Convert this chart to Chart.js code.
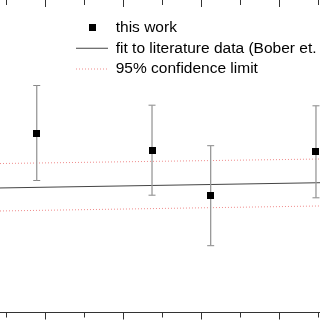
<!DOCTYPE html>
<html><head><meta charset="utf-8">
<style>
html,body{margin:0;padding:0;background:#fff;overflow:hidden;}
#wrap{position:relative;width:320px;height:320px;overflow:hidden;background:#fff;}
#box{position:absolute;left:-60px;top:-20px;width:440px;height:360px;}
</style>
<script src="https://cdn.jsdelivr.net/npm/chart.js@4"></script>
</head><body>
<div id="wrap"><div id="box"><canvas id="c"></canvas></div></div>
<script>
// ---- data ----
const xValues = [0.894, 2.372, 3.124, 4.474];
const yValues = [17.90, 16.18, 11.63, 16.02];
const yErrors = [4.75, 4.50, 5.00, 4.60];
const lineX = [0, 5];
const fitY = [12.35, 12.99];
const upperY = [14.80, 15.35];
const lowerY = [10.05, 10.66];
const majorTicks = [1, 2, 3, 4];
const minorTicks = [0.5, 1.5, 2.5, 3.5, 4.5];
const seriesNames = ['this work', 'fit to literature data (Bober et. al.)', '95% confidence limit'];

Chart.defaults.font.family = "'Liberation Sans', Arial, sans-serif";
Chart.defaults.font.size = 15.5;
Chart.defaults.color = '#000';

const sq = document.createElement('canvas');
sq.width = 7; sq.height = 7;
const g = sq.getContext('2d'); g.fillStyle = '#000'; g.fillRect(0, 0, 7, 7);

const pts = xValues.map((x, i) => ({x, y: yValues[i]}));
const bars = xValues.flatMap((x, i) => [{x, y: yValues[i] - yErrors[i]}, {x, y: yValues[i] + yErrors[i]}, {x, y: null}]);
const caps = xValues.flatMap((x, i) => [{x, y: yValues[i] - yErrors[i]}, {x, y: yValues[i] + yErrors[i]}]);
const mk = ys => lineX.map((x, i) => ({x, y: ys[i]}));

const framePlugin = {
  id: 'frame',
  afterLayout(chart) {
    const a = chart.chartArea, lg = chart.legend;
    lg.left = a.left + 103.75;
    lg.top = a.top + 15.5;
  },
  beforeDatasetsDraw(chart) {
    const {ctx, chartArea: a, scales: {x}} = chart;
    ctx.save();
    ctx.strokeStyle = '#333';
    ctx.lineWidth = 1;
    ctx.beginPath();
    const yb = Math.round(a.bottom) + 0.5, yt = Math.round(a.top) + 0.5;
    ctx.moveTo(a.left, yb); ctx.lineTo(a.right, yb);
    ctx.moveTo(a.left, yt); ctx.lineTo(a.right, yt);
    const tk = (vals, lb, lt) => vals.forEach(v => {
      const px = Math.round(x.getPixelForValue(v)) + 0.5;
      ctx.moveTo(px, yb); ctx.lineTo(px, yb + lb);
      ctx.moveTo(px, yt); ctx.lineTo(px, yt + lt);
    });
    tk(majorTicks, 7, 7.5);
    tk(minorTicks, 5, 5.5);
    ctx.stroke();
    ctx.restore();
  }
};

new Chart(document.getElementById('c'), {
  type: 'line',
  data: {
    datasets: [
      {label: seriesNames[0], data: pts, showLine: false, pointStyle: sq, pointRadius: 4, backgroundColor: '#000', borderColor: '#000'},
      {label: 'err', data: bars, borderColor: '#999', borderWidth: 1.3, pointRadius: 0, spanGaps: false, inLegend: false},
      {label: 'cap', data: caps, showLine: false, pointStyle: 'line', pointRadius: 3.5, borderColor: '#888', pointBorderColor: '#888', pointBorderWidth: 1, inLegend: false},
      {label: seriesNames[1], data: mk(fitY), borderColor: '#444', borderWidth: 1, pointRadius: 0, pointStyle: 'line'},
      {label: seriesNames[2], data: mk(upperY), borderColor: 'rgba(235,110,110,0.8)', borderWidth: 1, borderDash: [1, 2], pointRadius: 0, pointStyle: 'line'},
      {label: 'lower', data: mk(lowerY), borderColor: 'rgba(235,110,110,0.8)', borderWidth: 1, borderDash: [1, 2], pointRadius: 0, inLegend: false}
    ]
  },
  options: {
    responsive: true,
    maintainAspectRatio: false,
    animation: false,
    devicePixelRatio: 1,
    layout: {padding: {left: 27, right: 23, top: 19, bottom: 28}},
    scales: {
      x: {type: 'linear', min: 0, max: 5, display: false},
      y: {type: 'linear', min: 0, max: 31.3, display: false}
    },
    plugins: {
      tooltip: {enabled: false},
      legend: {
        position: 'chartArea',
        align: 'start',
        labels: {
          usePointStyle: true,
          pointStyleWidth: 32,
          padding: 5.25,
          color: '#000',
          font: {size: 15.5},
          filter: (item, data) => data.datasets[item.datasetIndex].inLegend !== false,
          generateLabels(chart) {
            const items = Chart.defaults.plugins.legend.labels.generateLabels(chart);
            items.forEach(it => {
              const ds = chart.data.datasets[it.datasetIndex];
              if (ds.borderDash) it.lineDash = ds.borderDash;
              it.strokeStyle = ds.borderColor;
              it.lineWidth = 1;
            });
            return items;
          }
        }
      }
    }
  },
  plugins: [framePlugin]
});
</script>
</body></html>
